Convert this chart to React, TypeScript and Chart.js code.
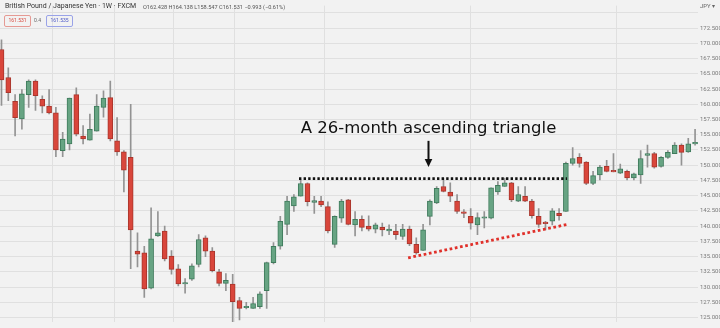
import React, { useEffect, useRef } from 'react';
import { Chart, registerables } from 'chart.js';

Chart.register(...registerables);

// Weekly GBP/JPY candles
const opens = [
  169.0, 164.4, 160.5, 157.6, 161.6, 163.8, 160.8, 159.7, 158.6, 152.4,
  153.5, 161.6, 154.8, 154.1, 155.6, 159.5, 161.1, 154.0, 152.2, 151.3,
  135.9, 135.6, 129.8, 138.4, 139.2, 135.1, 133.0, 130.5, 131.3, 133.7,
  138.1, 135.9, 132.5, 130.6, 130.5, 127.8, 126.6, 126.5, 126.8, 129.4,
  134.0, 136.7, 140.3, 143.3, 144.9, 147.0, 143.9, 144.1, 143.2, 137.0,
  141.3, 144.3, 140.2, 141.1, 140.0, 139.5, 139.8, 139.2, 139.2, 138.3,
  139.5, 137.0, 136.0, 141.6, 143.8, 146.5, 145.6, 144.1, 142.3, 141.6,
  140.2, 141.3, 141.3, 145.6, 146.5, 147.1, 144.1, 144.9, 144.1, 141.6,
  140.6, 140.8, 142.1, 142.4, 150.3, 151.3, 150.5, 147.0, 148.4, 149.8,
  149.1, 148.7, 149.0, 147.9, 148.4, 151.6, 151.9, 149.8, 151.3, 151.9,
  153.3, 152.2, 153.5,
];
const highs = [
  170.6, 166.0, 161.6, 162.4, 164.0, 164.0, 161.4, 162.4, 159.5, 155.4,
  161.0, 162.7, 156.5, 158.4, 161.6, 162.2, 163.8, 157.8, 152.4, 160.0,
  138.9, 136.7, 143.0, 142.4, 140.0, 136.0, 133.7, 131.4, 133.8, 138.6,
  138.4, 136.5, 132.9, 132.2, 132.1, 128.3, 127.5, 128.3, 129.2, 134.1,
  137.3, 141.6, 144.9, 145.2, 147.6, 147.1, 144.9, 144.9, 144.0, 141.7,
  144.4, 144.4, 142.4, 141.7, 141.7, 140.5, 140.5, 140.2, 140.3, 140.3,
  140.0, 138.1, 140.3, 144.3, 146.5, 147.9, 147.1, 145.2, 142.7, 142.9,
  142.2, 142.4, 146.3, 147.3, 147.9, 147.2, 146.5, 146.5, 144.4, 142.9,
  140.8, 142.9, 142.9, 150.5, 152.9, 151.9, 150.6, 149.0, 150.0, 150.8,
  151.9, 150.2, 149.2, 148.7, 152.4, 153.3, 152.1, 151.4, 152.4, 153.7,
  153.5, 154.4, 155.9,
];
const lows = [
  159.8, 160.6, 154.8, 155.9, 159.5, 159.0, 158.6, 158.4, 151.4, 151.4,
  152.5, 154.8, 153.5, 154.1, 155.6, 157.9, 154.0, 151.6, 145.6, 133.0,
  133.3, 128.3, 129.7, 138.3, 134.3, 132.1, 130.2, 129.0, 131.1, 133.3,
  135.0, 132.5, 130.2, 129.4, 124.3, 124.6, 126.4, 126.5, 126.5, 126.5,
  133.8, 136.2, 138.6, 142.4, 144.9, 143.3, 142.1, 143.2, 138.9, 136.5,
  140.6, 140.2, 138.4, 139.2, 139.2, 138.9, 138.4, 138.6, 137.8, 137.8,
  136.8, 135.4, 136.0, 140.2, 143.7, 145.6, 144.0, 142.1, 141.4, 139.5,
  138.6, 139.7, 141.2, 145.2, 146.5, 144.0, 144.0, 144.0, 141.3, 139.8,
  139.4, 140.2, 141.0, 142.4, 150.0, 149.7, 146.8, 146.8, 147.6, 148.9,
  148.9, 148.6, 147.6, 147.6, 147.0, 149.7, 149.5, 149.7, 151.1, 151.9,
  150.0, 152.1, 153.3,
];
const closes = [
  164.0, 161.9, 157.8, 161.7, 163.8, 161.4, 159.7, 158.6, 152.5, 154.3,
  161.0, 155.1, 154.3, 155.9, 159.7, 161.0, 154.3, 152.2, 149.2, 139.4,
  135.4, 129.7, 137.9, 138.9, 134.6, 132.9, 130.5, 130.7, 133.5, 137.8,
  135.9, 132.7, 130.6, 131.1, 127.6, 126.5, 126.7, 127.3, 128.9, 134.0,
  136.7, 140.8, 144.1, 144.8, 147.0, 144.0, 144.2, 143.5, 139.2, 141.6,
  144.1, 140.3, 141.1, 139.8, 139.5, 140.2, 139.4, 139.5, 138.6, 139.5,
  137.1, 135.6, 139.4, 144.1, 146.2, 145.7, 144.9, 142.4, 142.1, 140.5,
  141.4, 141.4, 146.3, 146.7, 147.1, 144.3, 145.2, 144.1, 141.7, 140.3,
  140.4, 142.5, 141.7, 150.3, 151.1, 150.3, 147.0, 148.3, 149.7, 149.0,
  148.9, 149.4, 147.9, 148.6, 151.1, 151.9, 149.7, 151.3, 152.1, 153.3,
  152.1, 153.5, 153.6,
];

// Price-axis tick values
const priceTicks = [
  125, 127.5, 130, 132.5, 135, 137.5, 140, 142.5, 145, 147.5,
  150, 152.5, 155, 157.5, 160, 162.5, 165, 167.5, 170, 172.5, 175,
];
// Time grid positions (in candle index units)
const timeGrid = [12, 21.1, 29.5, 39, 56, 81.8, 99];

// Triangle annotation (index units / price)
const resistanceX = [43.75, 83.16];
const resistanceY = [147.8, 147.8];
const supportX = [59.8, 83.3];
const supportY = [134.8, 140.3];
const arrowX = 62.72;
const arrowTop = 154.0;
const arrowTip = 149.7;
const titleX = 62.8;
const titleY = 155.27;
const TITLE = 'A 26-month ascending triangle';

const RED = '#d9463b';
const RED_EDGE = '#a9362d';
const GREEN = '#67a483';
const GREEN_EDGE = '#3f7b5c';
const WICK = '#939393';
const BG = '#f2f2f2';
const GRID = '#e0e0e0';

const bgPlugin = {
  id: 'bg',
  beforeDraw(chart: any) {
    const { ctx, width, height } = chart;
    ctx.save();
    ctx.fillStyle = BG;
    ctx.fillRect(0, 0, width, height);
    ctx.restore();
  },
};

const annotPlugin = {
  id: 'annot',
  afterDatasetsDraw(chart: any) {
    const { ctx, scales } = chart;
    const x = scales.x;
    const y = scales.y;
    ctx.save();
    ctx.fillStyle = '#111';
    ctx.strokeStyle = '#111';
    ctx.font = '16.5px "DejaVu Sans"';
    ctx.textAlign = 'center';
    ctx.textBaseline = 'alphabetic';
    ctx.fillText(TITLE, x.getPixelForValue(titleX), y.getPixelForValue(titleY));
    const ax = Math.round(x.getPixelForValue(arrowX)) + 0.5;
    const y1 = y.getPixelForValue(arrowTop);
    const y2 = y.getPixelForValue(arrowTip);
    ctx.lineWidth = 2;
    ctx.beginPath();
    ctx.moveTo(ax, y1);
    ctx.lineTo(ax, y2 - 6);
    ctx.stroke();
    ctx.beginPath();
    ctx.moveTo(ax - 3.8, y2 - 8);
    ctx.lineTo(ax + 3.8, y2 - 8);
    ctx.lineTo(ax, y2);
    ctx.closePath();
    ctx.fill();
    ctx.restore();
  },
};

export default function App() {
  const ref = useRef<HTMLCanvasElement>(null);

  useEffect(() => {
    document.body.style.margin = '0';
    const idx = opens.map((_, i) => i);
    const up = idx.map((i) => closes[i] >= opens[i]);
    const chart = new Chart(ref.current as HTMLCanvasElement, {
      type: 'bar',
      data: {
        datasets: [
          {
            type: 'line',
            data: resistanceX.map((v, i) => ({ x: v, y: resistanceY[i] })),
            borderColor: '#111',
            borderWidth: 2.6,
            borderDash: [2.4, 2.2],
            borderCapStyle: 'butt',
            pointRadius: 0,
            order: -2,
          } as any,
          {
            type: 'line',
            data: supportX.map((v, i) => ({ x: v, y: supportY[i] })),
            borderColor: '#e0302a',
            borderWidth: 2.8,
            borderDash: [2.7, 2.6],
            borderCapStyle: 'butt',
            pointRadius: 0,
            order: -1,
          } as any,
          {
            label: 'body',
            data: idx.map((i) => ({ x: i, y: [opens[i], closes[i]] })) as any,
            backgroundColor: up.map((u) => (u ? GREEN : RED)),
            borderColor: up.map((u) => (u ? GREEN_EDGE : RED_EDGE)),
            borderWidth: 1,
            borderSkipped: false,
            barThickness: 5,
            minBarLength: 1.5,
            grouped: false,
            order: 0,
          } as any,
          {
            label: 'wick',
            data: idx.map((i) => ({ x: i, y: [lows[i], highs[i]] })) as any,
            backgroundColor: WICK,
            borderWidth: 0,
            barThickness: 1,
            grouped: false,
            order: 1,
          } as any,
        ],
      },
      options: {
        animation: false,
        responsive: true,
        maintainAspectRatio: false,
        layout: { padding: 0 },
        plugins: {
          legend: { display: false },
          tooltip: { enabled: false },
        },
        scales: {
          x: {
            type: 'linear',
            min: -0.22,
            max: 102.43,
            offset: false,
            afterBuildTicks: (s: any) => {
              s.ticks = timeGrid.map((v) => ({ value: v }));
            },
            afterFit: (s: any) => {
              s.height = 0;
            },
            ticks: { display: false },
            grid: { color: GRID, drawTicks: false, lineWidth: 1 },
            border: { display: false },
          },
          y: {
            type: 'linear',
            position: 'right',
            min: 124.2,
            max: 176.2,
            afterBuildTicks: (s: any) => {
              s.ticks = priceTicks.map((v) => ({ value: v }));
            },
            afterFit: (s: any) => {
              s.width = 22;
            },
            ticks: {
              padding: 2,
              color: '#7a7a7a',
              font: { size: 6, family: 'Roboto' },
              callback: (v: any) => (Number(v) >= 175 ? '' : Number(v).toFixed(3)),
            },
            grid: { color: GRID, drawTicks: false, lineWidth: 1 },
            border: { display: false },
          },
        },
      } as any,
      plugins: [bgPlugin, annotPlugin],
    });
    return () => chart.destroy();
  }, []);

  const small: React.CSSProperties = {
    position: 'absolute',
    fontFamily: 'Roboto, "Noto Sans", sans-serif',
    whiteSpace: 'nowrap',
    lineHeight: 1,
  };

  return (
    <div style={{ position: 'fixed', left: 0, top: 0, width: 720, height: 328, background: BG, overflow: 'hidden' }}>
      <canvas ref={ref} width={720} height={328} />
      <div style={{ ...small, left: 5, top: 3, fontSize: 7, color: '#333' }}>
        British Pound / Japanese Yen · 1W · FXCM
      </div>
      <div style={{ ...small, left: 143, top: 4.5, fontSize: 5.6, color: '#555' }}>
        O162.428 H164.138 L158.547 C161.531 −0.993 (−0.61%)
      </div>
      <div
        style={{
          ...small,
          left: 4,
          top: 15,
          width: 25,
          height: 8,
          border: '1px solid #e59a94',
          borderRadius: 2,
          fontSize: 5,
          color: '#d9463b',
          textAlign: 'center',
          paddingTop: 2,
        }}
      >
        161.531
      </div>
      <div style={{ ...small, left: 34, top: 18, fontSize: 5, color: '#666' }}>0.4</div>
      <div
        style={{
          ...small,
          left: 46,
          top: 15,
          width: 25,
          height: 8,
          border: '1px solid #9aa3e8',
          borderRadius: 2,
          fontSize: 5,
          color: '#4a56c8',
          textAlign: 'center',
          paddingTop: 2,
        }}
      >
        161.535
      </div>
      <div style={{ ...small, left: 700, top: 3, fontSize: 6, color: '#666' }}>JPY ▾</div>
    </div>
  );
}
